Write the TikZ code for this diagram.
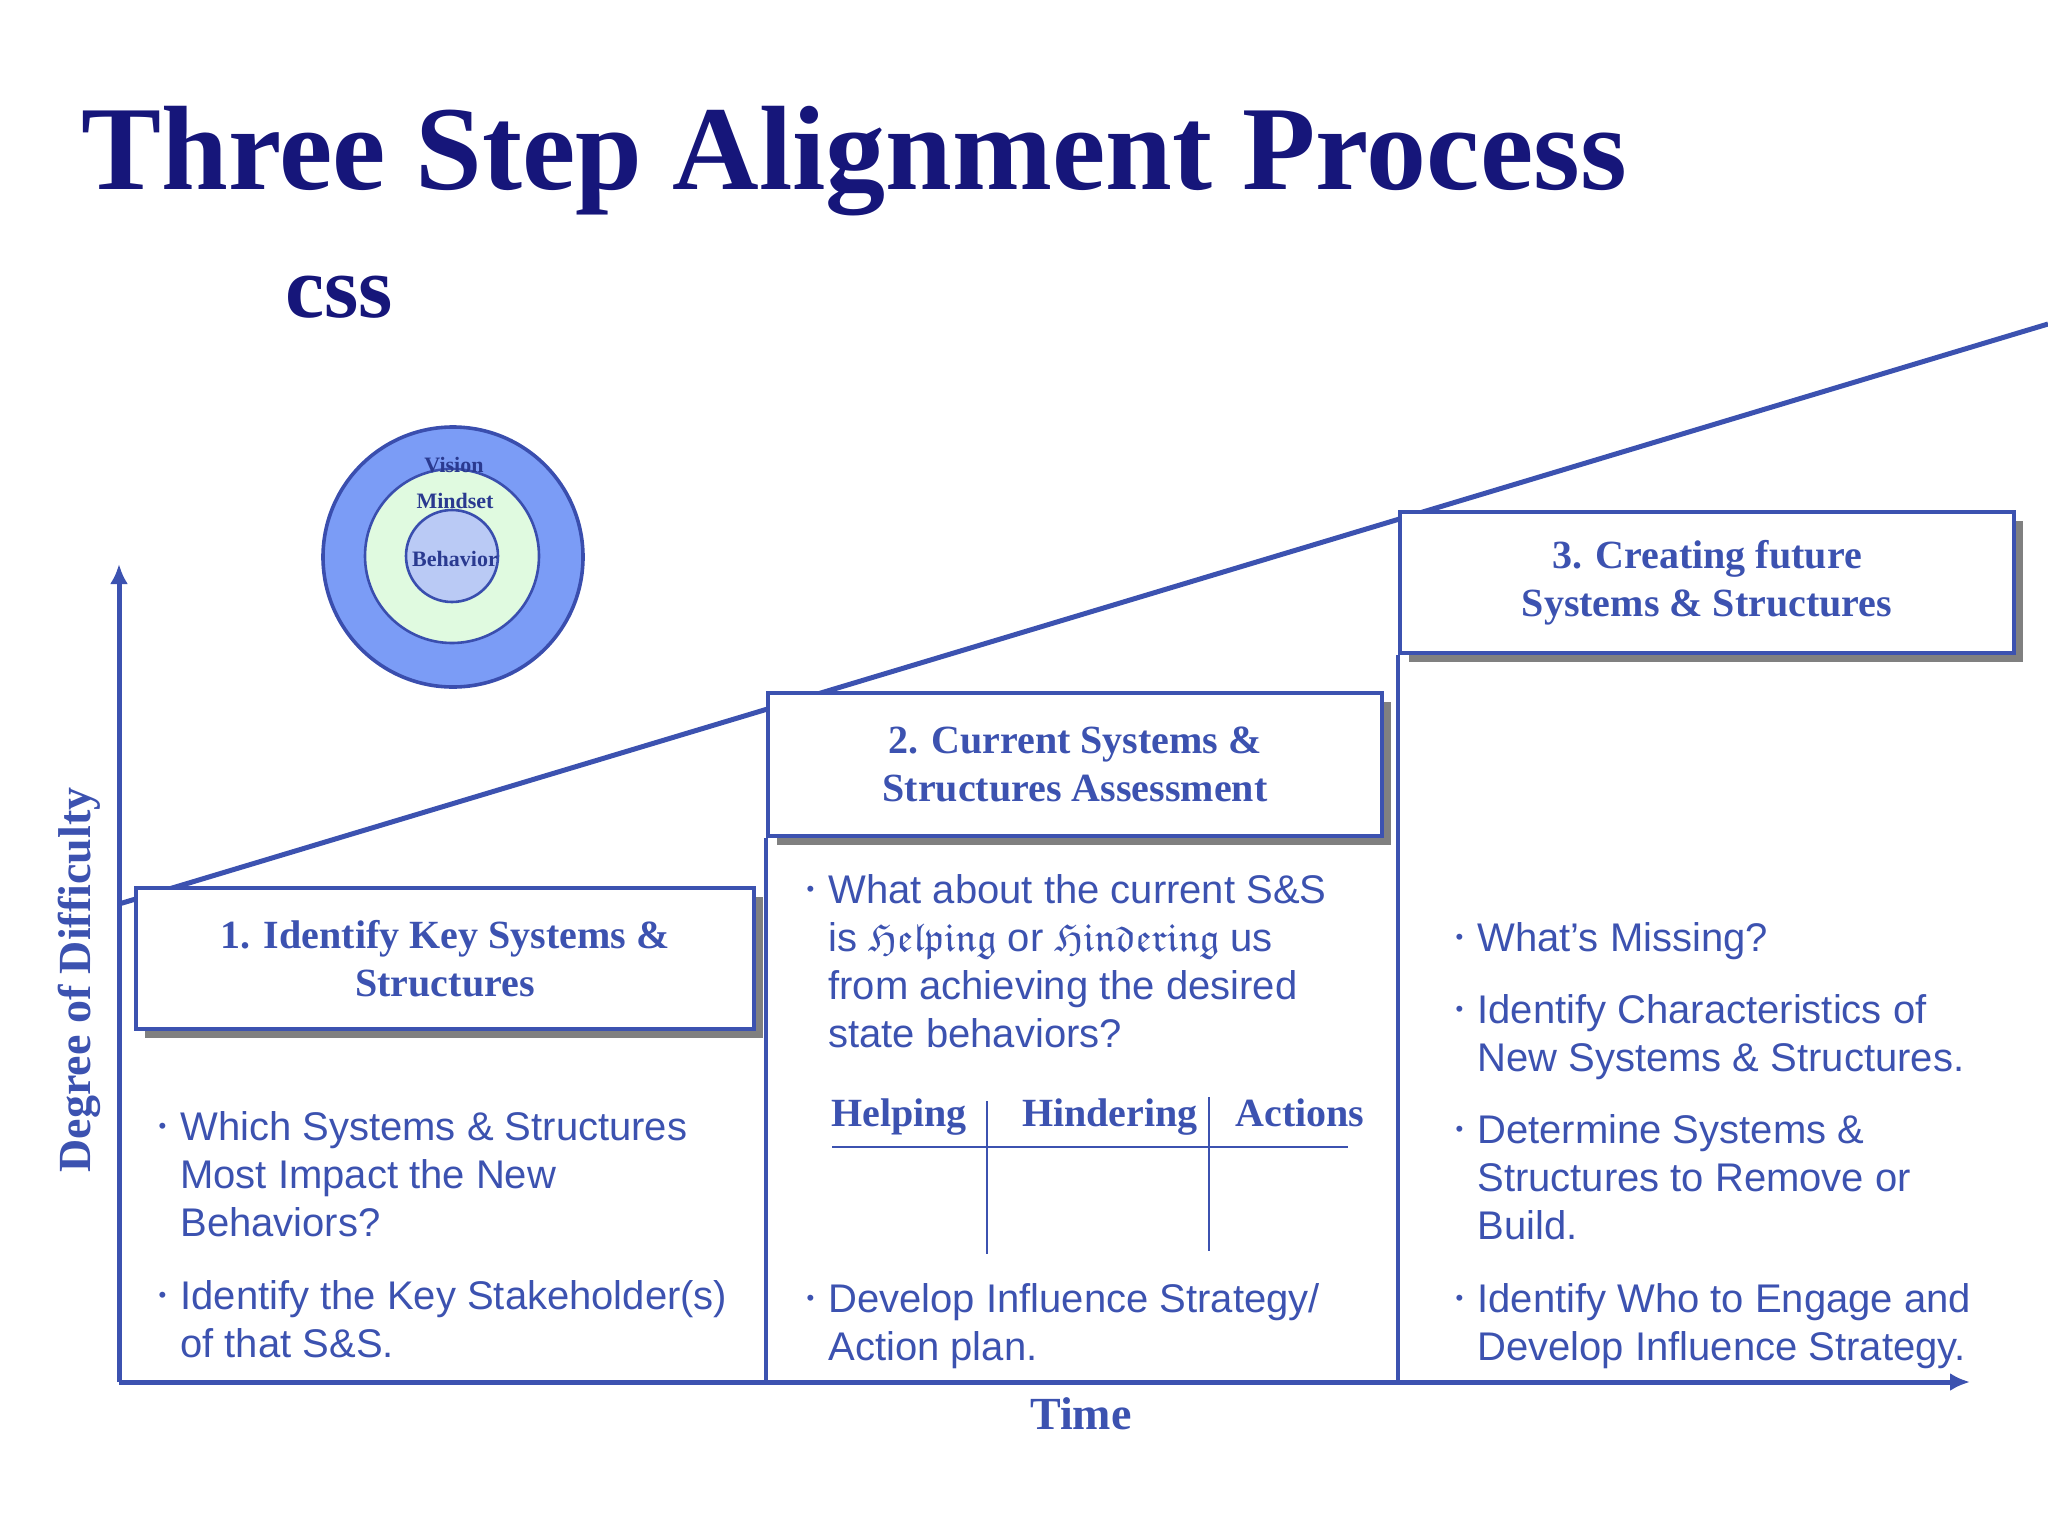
\documentclass[tikz,border=0pt]{standalone}
\usepackage{fontspec}
\usepackage{amsfonts}
\setmainfont{Liberation Serif}
\setsansfont{Liberation Sans}
\usetikzlibrary{arrows.meta,shadows}

\definecolor{navy}{HTML}{16167A}
\definecolor{stepblue}{HTML}{3C52B0}
\definecolor{ringline}{HTML}{3A4EAE}
\definecolor{ringouter}{HTML}{7B9CF6}
\definecolor{ringmid}{HTML}{E0FAE0}
\definecolor{ringinner}{HTML}{BACAF5}
\definecolor{ringtext}{HTML}{2A3A90}
\definecolor{shadowgray}{HTML}{808080}

\newcommand{\titlefont}{\fontsize{60}{62}\selectfont\rmfamily\bfseries}
\newcommand{\cssfont}{\fontsize{44}{48}\selectfont\rmfamily\bfseries}
\newcommand{\headfont}{\fontsize{20}{24}\selectfont\rmfamily\bfseries}
\newcommand{\bodyfont}{\fontsize{20}{24}\selectfont\sffamily}
\newcommand{\tablefont}{\fontsize{20}{24}\selectfont\rmfamily\bfseries}
\newcommand{\ringfont}{\fontsize{11}{12}\selectfont\rmfamily\bfseries}
\newcommand{\axisfont}{\fontsize{23}{26}\selectfont\rmfamily\bfseries}
\newcommand{\stepdot}{\llap{\raisebox{3.5pt}{\scalebox{0.55}{\textbullet}}\hspace{7pt}}}

\begin{document}
\begin{tikzpicture}[x=0.5pt,y=-0.5pt,
    stepbox/.style={draw=stepblue, line width=2.2pt, fill=white, align=center,
      text=stepblue, font=\headfont, yshift=0pt,
      drop shadow={shadow xshift=4.5pt, shadow yshift=-4.5pt, fill=shadowgray, opacity=1}},
    pointtext/.style={anchor=north west, align=left, inner sep=0pt, text=stepblue, font=\bodyfont},
    tablehead/.style={anchor=base, inner sep=0pt, text=stepblue, font=\tablefont},
    ringlabel/.style={inner sep=0pt, text=ringtext, font=\ringfont},
    axislabel/.style={inner sep=0pt, text=stepblue, font=\axisfont},
    axisline/.style={draw=stepblue, line width=2.5pt},
    tableline/.style={draw=stepblue, line width=1.3pt}]
  \useasboundingbox (0,0) rectangle (2048,1536);

  % title
  \node[anchor=base west, inner sep=0pt, text=navy, font=\titlefont] (title) at (81,189) {Three Step Alignment Process};
  \node[anchor=base west, inner sep=0pt, text=navy, font=\cssfont] (css) at (285,317) {css};

  % rings
  \draw[ringline, line width=1.8pt, fill=ringouter] (453,557) circle[radius=65pt];
  \draw[ringline, line width=1.3pt, fill=ringmid] (452,556) circle[radius=43.5pt];
  \draw[ringline, line width=1.3pt, fill=ringinner] (452,556) circle[radius=23pt];
  \node[ringlabel] (vision) at (454,465) {Vision};
  \node[ringlabel] (mindset) at (455,501) {Mindset};
  \node[ringlabel] (behavior) at (455,559) {Behavior};

  % axes and slope
  \coordinate (origin) at (119,1382);
  \coordinate (ytip) at (119,564);
  \coordinate (xtip) at (1970,1382);
  \coordinate (slopestart) at (119,904);
  \coordinate (slopeend) at (2048,324);
  \draw[axisline] (slopestart) -- (slopeend);
  \draw[axisline, -{Latex[length=10pt,width=9pt]}] (origin) -- (ytip);
  \draw[axisline, -{Latex[length=10pt,width=9pt]}] (origin) -- (xtip);
  \node[axislabel, rotate=90] (difficulty) at (79,980) {Degree of Difficulty};
  \node[axislabel] (time) at (1081,1414) {Time};

  % steps
  \node[stepbox, minimum width=309pt, minimum height=70.5pt] (identify) at (445,958.5) {1. Identify Key Systems \&\\Structures};
  \node[stepbox, minimum width=307pt, minimum height=71.5pt] (current) at (1075,764.5) {2. Current Systems \&\\Structures Assessment};
  \node[stepbox, minimum width=307pt, minimum height=70.5pt] (future) at (1707,582.5) {3. Creating future\\Systems \& Structures};
  \draw[axisline, line width=2pt] (current.south west) -- (current.south west |- origin);
  \draw[axisline, line width=2pt] (future.south west) -- (future.south west |- origin);

  % column 1
  \node[pointtext] (whichss) at (180,1111) {\stepdot Which Systems \& Structures\\Most Impact the New\\Behaviors?};
  \node[pointtext] (stakeholder) at (180,1280) {\stepdot Identify the Key Stakeholder(s)\\of that S\&S.};

  % column 2
  \node[pointtext] (whatabout) at (828,874) {\stepdot What about the current S\&S\\is $\mathfrak{Helping}$ or $\mathfrak{Hindering}$ us\\from achieving the desired\\state behaviors?};
  \node[tablehead] (helping) at (899,1126) {Helping};
  \node[tablehead] (hindering) at (1110,1126) {Hindering};
  \node[tablehead] (actions) at (1300,1126) {Actions};
  \draw[tableline] (832,1147) -- (1348,1147);
  \draw[tableline, line width=1pt] (987,1101) -- (987,1254);
  \draw[tableline, line width=1pt] (1209,1097) -- (1209,1251);
  \node[pointtext] (influence) at (828,1283) {\stepdot Develop Influence Strategy/\\Action plan.};

  % column 3
  \node[pointtext] (missing) at (1477,922) {\stepdot What’s Missing?};
  \node[pointtext] (traits) at (1477,994) {\stepdot Identify Characteristics of\\New Systems \& Structures.};
  \node[pointtext] (remove) at (1477,1114) {\stepdot Determine Systems \&\\Structures to Remove or\\Build.};
  \node[pointtext] (engage) at (1477,1283) {\stepdot Identify Who to Engage and\\Develop Influence Strategy.};
\end{tikzpicture}
\end{document}
